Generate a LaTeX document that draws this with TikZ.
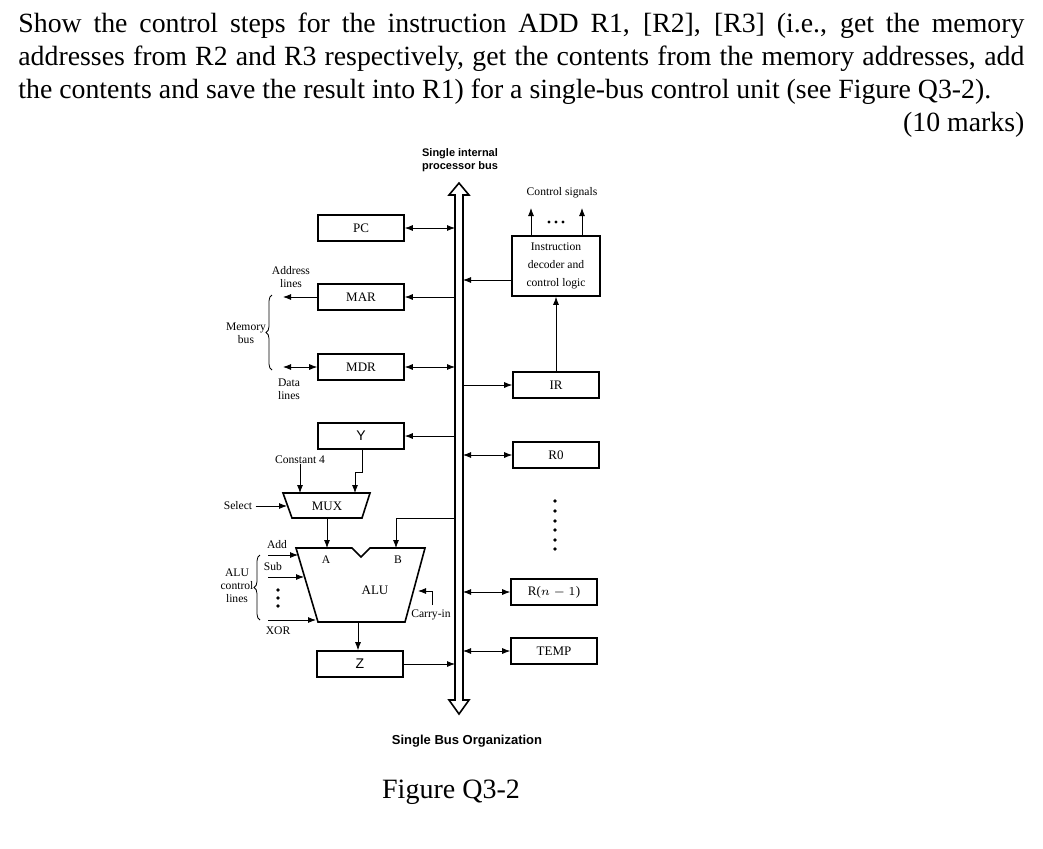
\documentclass[tikz,border=0pt]{standalone}
\usepackage{fontspec}
\setmainfont{Liberation Serif}
\newfontfamily\busfont{Liberation Sans}
\usetikzlibrary{arrows.meta,decorations.pathreplacing}
\begin{document}
\begin{tikzpicture}[
			x=0.5pt, y=-0.5pt,
			% Define styles for nodes
			reg/.style={draw, thick, rectangle, minimum width=43pt, minimum height=13pt, inner sep=0pt, font=\fontsize{6.5}{7}\selectfont},
			lbl/.style={align=center, inner sep=0pt, font=\fontsize{5.8}{6.5}\selectfont},
			from bus/.style={draw, -{Latex[length=4pt]}},
			both bus/.style={draw, {Latex[length=4pt]}-{Latex[length=4pt]}},
			brace/.style={decorate, decoration={brace, amplitude=3pt}}
		]
		\useasboundingbox (0,0) rectangle (1043,848);

		% Question text
		\node[anchor=north west, inner sep=0pt, text width=503pt, align=justify,
			font=\fontsize{13.9}{16.5}\selectfont] (question) at (18,13)
			{Show the control steps for the instruction ADD R1, [R2], [R3] (i.e., get the memory\linebreak addresses from R2 and R3 respectively, get the contents from the memory addresses, add\linebreak the contents and save the result into R1) for a single-bus control unit (see Figure Q3-2).\par
			\hfill(10 marks)};

		% Bus
		\coordinate (busL) at (455,0);
		\coordinate (busR) at (463,0);
		\draw[thick] (455,700) -- (455,195) -- (449,195) -- (459,183) -- (469,195) -- (463,195)
			-- (463,700) -- (469,700) -- (459,714) -- (449,700) -- cycle;
		\node[lbl, font=\busfont\bfseries\fontsize{5.5}{6.5}\selectfont] (buslabel) at (460,160) {Single internal\\processor bus};
		\node[lbl, font=\busfont\bfseries\fontsize{6.5}{8}\selectfont] (title) at (467,741) {Single Bus Organization};
		\node[font=\fontsize{14}{16}\selectfont] (figure) at (451,792) {Figure Q3-2};

		% Left registers
		\node[reg] (pc) at (361,228) {PC};
		\node[reg] (mar) at (361,297) {MAR};
		\node[reg] (mdr) at (361,367) {MDR};
		\node[reg, font=\busfont\fontsize{7}{8}\selectfont] (y) at (361,436) {Y};
		\node[reg, font=\busfont\fontsize{7}{8}\selectfont] (z) at (360,664) {Z};
		\draw[both bus] (pc.east) -- (pc.east -| busL);
		\draw[from bus] (mar.east -| busL) -- (mar.east);
		\draw[both bus] (mdr.east) -- (mdr.east -| busL);
		\draw[from bus] (y.east -| busL) -- (y.east);
		\draw[from bus] (z.east) -- (z.east -| busL);

		% Memory bus
		\coordinate (addr) at (283,297);
		\coordinate (data) at (283,367);
		\draw[-{Latex[length=4pt]}] (mar.west) -- (addr);
		\draw[{Latex[length=4pt]}-{Latex[length=4pt]}] (data) -- (mdr.west);
		\node[lbl] (addrlbl) at (291,277) {Address\\lines};
		\node[lbl] (datalbl) at (289,389) {Data\\lines};
		\draw[brace] (272,370) -- (272,295);
		\node[lbl] (membus) at (246,333) {Memory\\bus};

		% MUX
		\draw[thick] (283,493) -- (370,493) -- (362,518) -- (292,518) -- cycle;
		\node[lbl, font=\fontsize{6.5}{7}\selectfont] (mux) at (327,506) {MUX};
		\node[lbl] (const) at (300,460) {Constant 4};
		\draw[-{Latex[length=4pt]}] (const.south -| 300,0) -- (300,493);
		\draw[-{Latex[length=4pt]}] (y.south -| 362,0) -- (362,472) -- (355,472) -- (355,493);
		\node[lbl] (select) at (238,506) {Select};
		\draw[-{Latex[length=4pt]}] (select.east) ++(3,0) -- (287,506);

		% ALU
		\draw[thick] (296,548) -- (352,548) -- (361,557) -- (370,548) -- (425,548)
			-- (405,622) -- (318,622) -- cycle;
		\node[lbl] (a) at (326,560) {A};
		\node[lbl] (b) at (398,560) {B};
		\node[lbl, font=\fontsize{6.5}{7}\selectfont] (alu) at (375,590) {ALU};
		\draw[-{Latex[length=4pt]}] (327,518) -- (327,548);
		\draw[-{Latex[length=4pt]}] (455,518) -- (396,518) -- (396,548);
		\draw[-{Latex[length=4pt]}] (432,605) -- (432,591) -- (418,591);
		\node[lbl] (carry) at (431,615) {Carry-in};
		\draw[-{Latex[length=4pt]}] (358,622) -- (z.north -| 358,0);

		% ALU control lines
		\draw[-{Latex[length=4pt]}] (268,555) -- (298,555);
		\draw[-{Latex[length=4pt]}] (268,577) -- (304,577);
		\draw[-{Latex[length=4pt]}] (268,620) -- (316,620);
		\node[lbl] (add) at (277,545) {Add};
		\node[lbl] (sub) at (273,567) {Sub};
		\foreach \dy in {590,598,606}
			\fill (278,\dy) circle (0.9pt);
		\node[lbl] (xor) at (278,631) {XOR};
		\draw[brace] (260,620) -- (260,555);
		\node[lbl] (aluctl) at (237,586) {ALU\\control\\lines};

		% Right side
		\node[draw, thick, minimum width=44pt, minimum height=30pt, inner sep=0pt, align=center,
			font=\fontsize{5.8}{9}\selectfont] (ctrl) at (556,266) {Instruction\\decoder and\\control logic};
		\draw[-{Latex[length=4pt]}] (ctrl.west |- 0,280) -- (busR |- 0,280);
		\coordinate (sig1) at (531,208);
		\coordinate (sig2) at (582,208);
		\draw[-{Latex[length=4pt]}] (ctrl.north -| sig1) -- (sig1);
		\draw[-{Latex[length=4pt]}] (ctrl.north -| sig2) -- (sig2);
		\foreach \dx in {549,556,563}
			\fill (\dx,222) circle (0.8pt);
		\node[lbl] (signals) at (562,193) {Control signals};

		\node[reg] (ir) at (556,385) {IR};
		\node[reg] (r0) at (556,455) {R0};
		\node[reg] (rn) at (554,592) {R($n-1$)};
		\node[reg] (temp) at (554,651) {TEMP};
		\draw[from bus] (ir.west -| busR) -- (ir.west);
		\draw[-{Latex[length=4pt]}] (ir.north) -- (ctrl.south);
		\draw[both bus] (r0.west -| busR) -- (r0.west);
		\draw[both bus] (rn.west -| busR) -- (rn.west);
		\draw[both bus] (temp.west -| busR) -- (temp.west);
		\foreach \dy in {501,511,521,530,540,549}
			\fill (555,\dy) circle (0.9pt);
	\end{tikzpicture}
\end{document}
